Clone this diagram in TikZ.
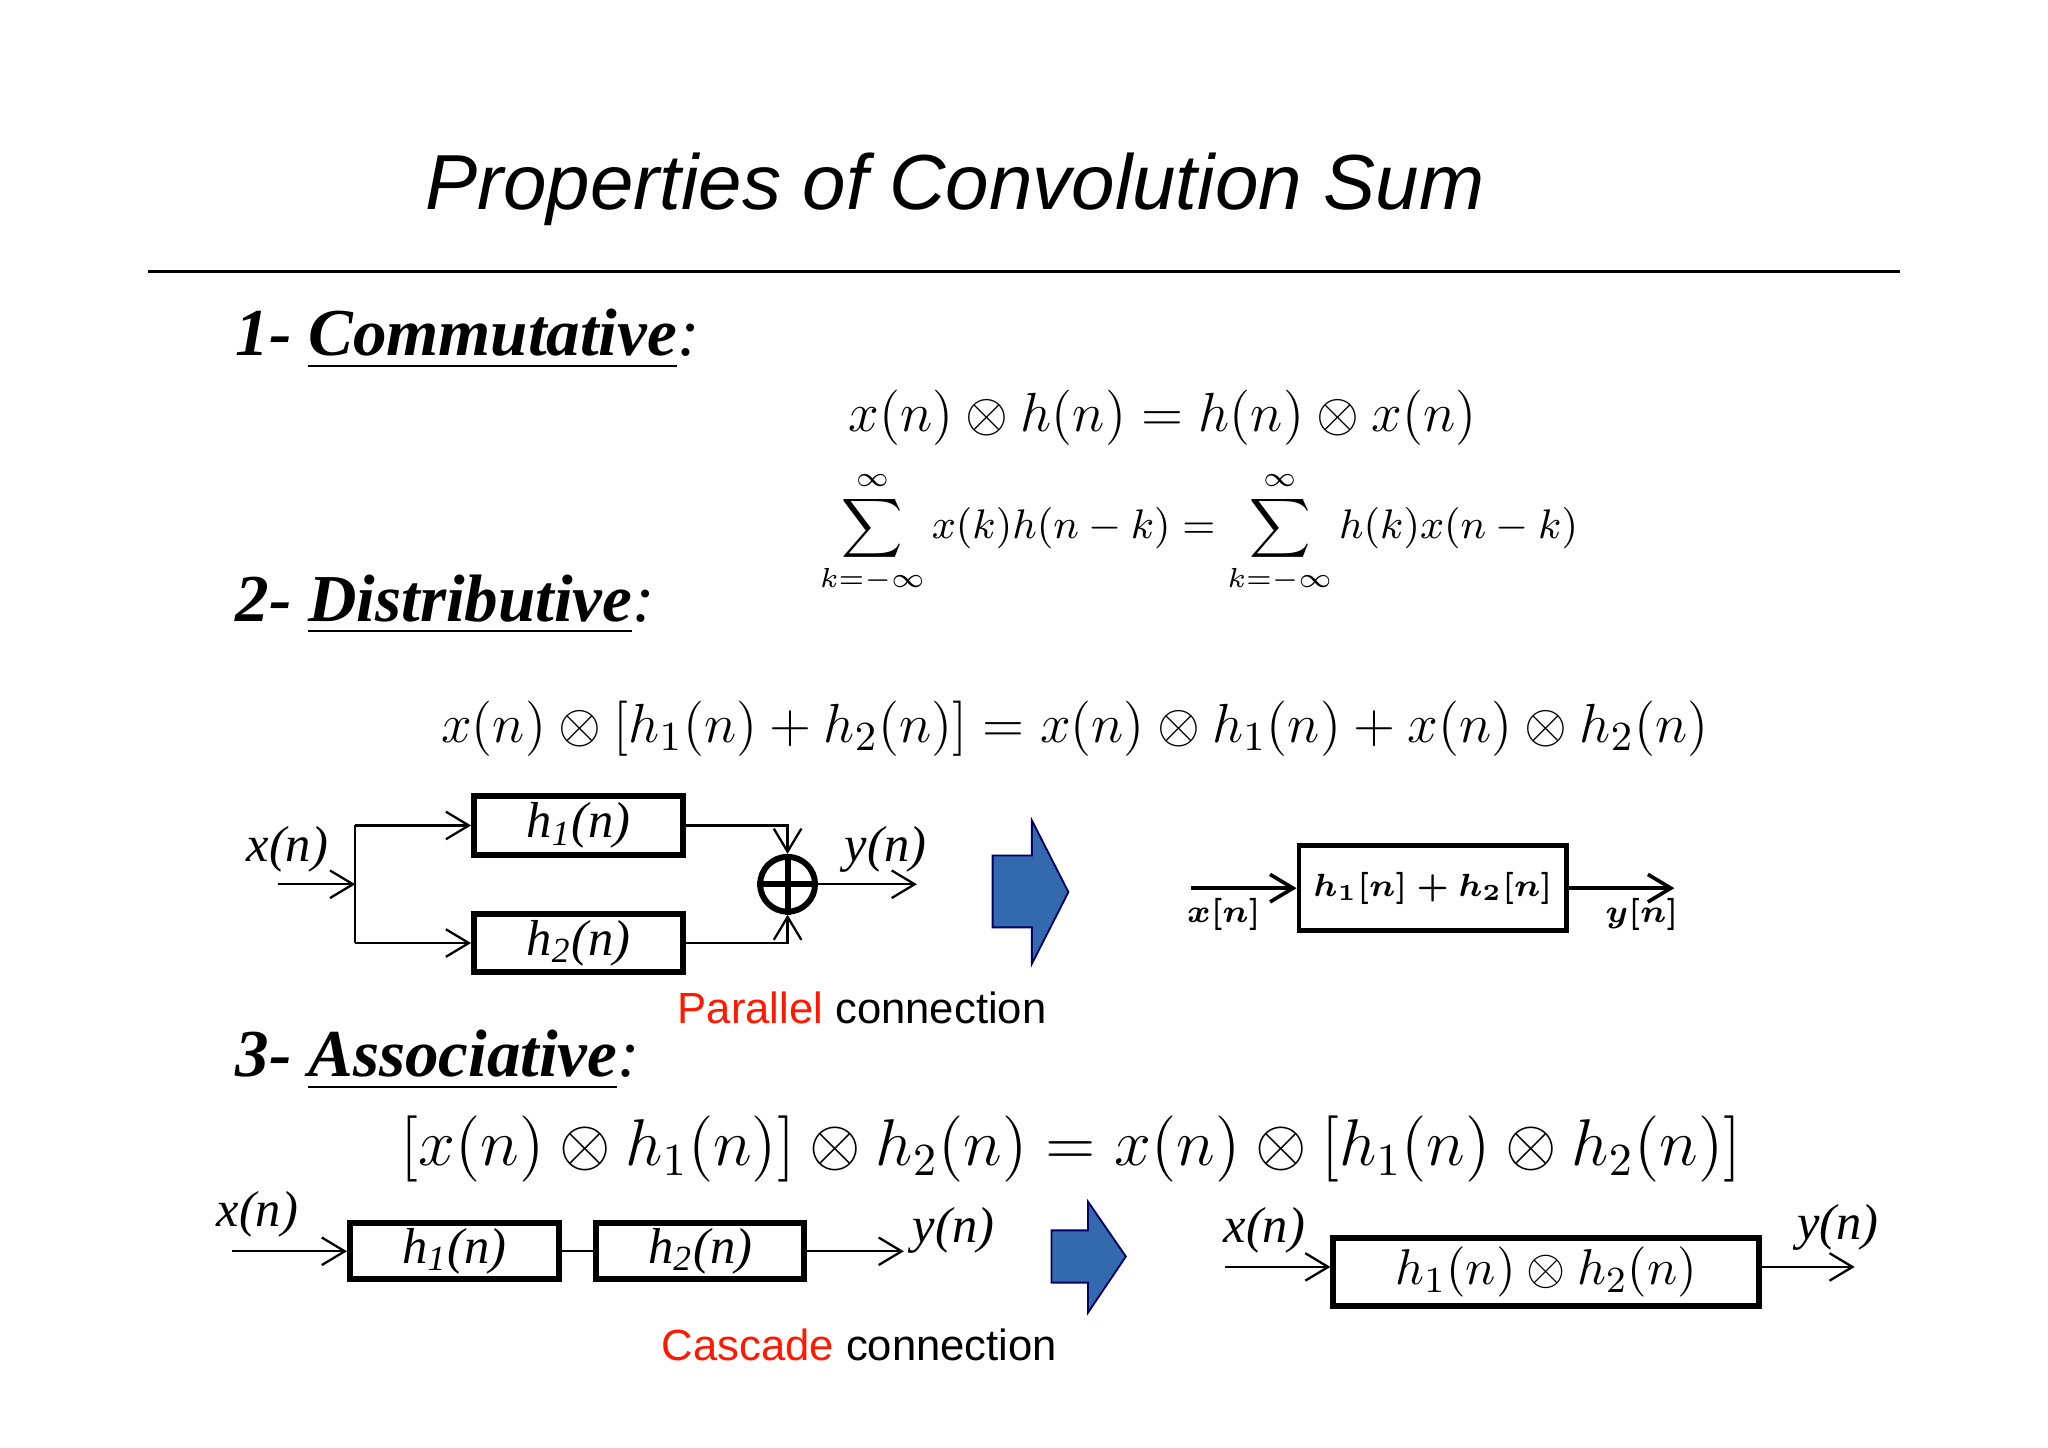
\documentclass[tikz,border=0pt]{standalone}
\usepackage{fontspec}
\setmainfont{Liberation Serif}
\setsansfont{Liberation Sans}
\usepackage{amsmath}
\usetikzlibrary{arrows.meta}
\begin{document}
\begin{tikzpicture}[x=0.01cm,y=-0.01cm,
  arr/.style={-{Straight Barb[length=5pt,width=6pt]},line width=0.5pt},
  blk/.style={draw,line width=1.3pt,inner sep=0pt},
  lab/.style={font=\fontsize{11}{13}\selectfont\itshape},
  head/.style={anchor=west,font=\fontsize{14.6}{17}\selectfont\bfseries\itshape},
  barrow/.style={fill=blue!55!cyan!60!black!80,draw=blue!40!black,line width=0.4pt}]
\useasboundingbox (0,0) rectangle (1568,1108);
\node[font=\sffamily\itshape\fontsize{17}{20}\selectfont] (title) at (731,145) {Properties of Convolution Sum};
\draw[line width=0.6pt] (113,208) coordinate (l1) -- (1455,208) coordinate (l2);
\node[head] (h1) at (168,260) {1- \underline{Commutative}\textmd{:}};
\node[head] (h2) at (168,463) {2- \underline{Distributive}\textmd{:}};
\node[head] (h3) at (168,812) {3- \underline{Associative}\textmd{:}};
\node[font=\fontsize{11.8}{13}\selectfont] (e1) at (890,320) {$x(n)\otimes h(n) = h(n)\otimes x(n)$};
\node[font=\fontsize{9.2}{11}\selectfont] (e2) at (918,408) {$\displaystyle\sum_{k=-\infty}^{\infty} x(k)h(n-k) = \sum_{k=-\infty}^{\infty} h(k)x(n-k)$};
\node[font=\fontsize{12.6}{14}\selectfont] (e3) at (823,558) {$x(n)\otimes[h_1(n)+h_2(n)] = x(n)\otimes h_1(n) + x(n)\otimes h_2(n)$};
\node[font=\fontsize{14}{16}\selectfont] (e4) at (820,880) {$[x(n)\otimes h_1(n)]\otimes h_2(n) = x(n)\otimes [h_1(n)\otimes h_2(n)]$};
% parallel
\node[blk,minimum width=1.6cm,minimum height=0.45cm,lab] (b1) at (443,632) {h\textsubscript{1}(n)};
\node[blk,minimum width=1.6cm,minimum height=0.45cm,lab] (b2) at (443,722) {h\textsubscript{2}(n)};
\node[draw,circle,line width=1.3pt,minimum size=0.42cm,inner sep=0pt] (sum) at (603,677) {};
\draw[line width=1.3pt] (sum.north)--(sum.south) (sum.west)--(sum.east);
\coordinate (xin) at (213,677);
\coordinate (br) at (272,677);
\node[lab] (xl) at (220,650) {x(n)};
\node[lab] (yl) at (678,650) {y(n)};
\coordinate (yout) at (702,677);
\draw[arr] (xin) -- (br);
\draw[line width=0.5pt] (br) -- (272,632);
\draw[line width=0.5pt] (br) -- (272,722);
\draw[arr] (272,632) -- (b1.west);
\draw[arr] (272,722) -- (b2.west);
\draw[arr] (b1.east) -| (sum.north);
\draw[arr] (b2.east) -| (sum.south);
\draw[arr] (sum.east) -- (yout);
\draw[barrow] (760,655) -- (790,655) -- (790,628) -- (818,683) -- (790,738) -- (790,710) -- (760,710) -- cycle;
\node[blk,line width=1pt,minimum width=2.05cm,minimum height=0.65cm,font=\fontsize{7}{9}\selectfont] (bp) at (1097,680) {$\boldsymbol{h_1[n]+h_2[n]}$};
\coordinate (xi2) at (912,680);
\coordinate (yo2) at (1282,680);
\draw[arr,line width=0.8pt] (xi2) -- (bp.west);
\draw[arr,line width=0.8pt] (bp.east) -- (yo2);
\node[font=\fontsize{7}{9}\selectfont] (xl2) at (937,700) {$\boldsymbol{x[n]}$};
\node[font=\fontsize{7}{9}\selectfont] (yl2) at (1257,700) {$\boldsymbol{y[n]}$};
\node[font=\sffamily\fontsize{9.5}{11}\selectfont] (pc) at (660,772) {\textcolor{red!80!orange}{Parallel} connection};
% cascade
\node[blk,minimum width=1.6cm,minimum height=0.43cm,lab] (c1) at (348,958) {h\textsubscript{1}(n)};
\node[blk,minimum width=1.59cm,minimum height=0.43cm,lab] (c2) at (536,958) {h\textsubscript{2}(n)};
\coordinate (cx) at (178,958);
\coordinate (cy) at (692,958);
\node[lab] (cxl) at (197,930) {x(n)};
\node[lab] (cyl) at (730,942) {y(n)};
\draw[arr] (cx) -- (c1.west);
\draw[line width=0.5pt] (c1.east) -- (c2.west);
\draw[arr] (c2.east) -- (cy);
\draw[barrow] (805,942) -- (833,942) -- (833,920) -- (862,962) -- (833,1005) -- (833,982) -- (805,982) -- cycle;
\node[blk,minimum width=3.26cm,minimum height=0.52cm,font=\fontsize{11}{13}\selectfont] (cb) at (1184,974) {$h_1(n)\otimes h_2(n)$};
\coordinate (cx2) at (938,970);
\coordinate (cy2) at (1420,970);
\node[lab] (cxl2) at (968,942) {x(n)};
\node[lab] (cyl2) at (1407,940) {y(n)};
\draw[arr] (cx2) -- (cx2 -| cb.west);
\draw[arr] (cy2 -| cb.east) -- (cy2);
\node[font=\sffamily\fontsize{9.5}{11}\selectfont] (cc) at (658,1030) {\textcolor{red!80!orange}{Cascade} connection};
\end{tikzpicture}
\end{document}
